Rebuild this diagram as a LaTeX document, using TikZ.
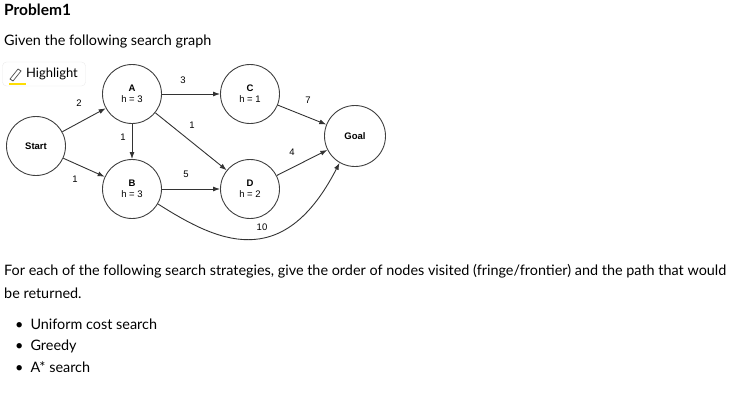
\documentclass[tikz,border=0pt]{standalone}
\usepackage{fontspec}
\setmainfont{Lato}
\newfontfamily\arial{Liberation Sans}
\usetikzlibrary{arrows.meta}
\begin{document}
\begin{tikzpicture}[x=1pt,y=-1pt,
  gnode/.style={circle,draw=black!75,line width=0.9pt,minimum size=59pt,inner sep=0pt,font=\arial\fontsize{9.5}{11}\selectfont,align=center},
  edge/.style={-{Latex[length=7pt,width=5pt]},line width=0.9pt,black!80},
  wl/.style={font=\arial\fontsize{9.5}{11}\selectfont},
  txt/.style={anchor=west,inner sep=0pt,font=\fontsize{14.4}{16}\selectfont}]
\useasboundingbox (0,0) rectangle (751,410);
\node[txt,font=\bfseries\fontsize{15.5}{18}\selectfont] (p) at (4,10) {Problem1};
\node[txt] (g) at (4,42) {Given the following search graph};
\node[draw=black!8,fill=white,rounded corners=4pt,minimum width=83pt,minimum height=24pt,font=\fontsize{13}{15}\selectfont] (hl) at (44,74) {\hspace*{16pt}Highlight};
\draw[black!70,line width=0.7pt] (10,79) -- (18,69) -- (21,71) -- (13,81) -- cycle;
\draw[yellow!80!orange,line width=1.5pt] (9,84) -- (26,84);
\node[gnode] (S) at (36,146) {\textbf{Start}};
\node[gnode] (A) at (132,94) {\textbf{A}\\h = 3};
\node[gnode] (B) at (132,189) {\textbf{B}\\h = 3};
\node[gnode] (C) at (250,94) {\textbf{C}\\h = 1};
\node[gnode] (D) at (250,189) {\textbf{D}\\h = 2};
\node[gnode,minimum size=61pt] (G) at (355,136) {\textbf{Goal}};
\draw[edge] (S) -- (A);
\draw[edge] (S) -- (B);
\draw[edge] (A) -- (C);
\draw[edge] (A) -- (B);
\draw[edge] (A) -- (D);
\draw[edge] (B) -- (D);
\draw[edge] (C) -- (G);
\draw[edge] (D) -- (G);
\draw[edge] (B.-30) .. controls (215,240) and (282,275) .. (G.-120);
\node[wl] (l1) at (79,103) {2};
\node[wl] (l2) at (75,179) {1};
\node[wl] (l3) at (183,80) {3};
\node[wl] (l4) at (123,137) {1};
\node[wl] (l5) at (192,125) {1};
\node[wl] (l6) at (186,174) {5};
\node[wl] (l7) at (308,100) {7};
\node[wl] (l8) at (292,152) {4};
\node[wl] (l9) at (262,227) {10};
\node[txt] (t1) at (4,271) {For each of the following search strategies, give the order of nodes visited (fringe/frontier) and the path that would};
\node[txt] (t2) at (4,293) {be returned.};
\node[txt] (b1) at (15,324) {\textbullet\hspace{7pt}Uniform cost search};
\node[txt] (b2) at (15,346) {\textbullet\hspace{7pt}Greedy};
\node[txt] (b3) at (15,367) {\textbullet\hspace{7pt}A* search};
\end{tikzpicture}
\end{document}
